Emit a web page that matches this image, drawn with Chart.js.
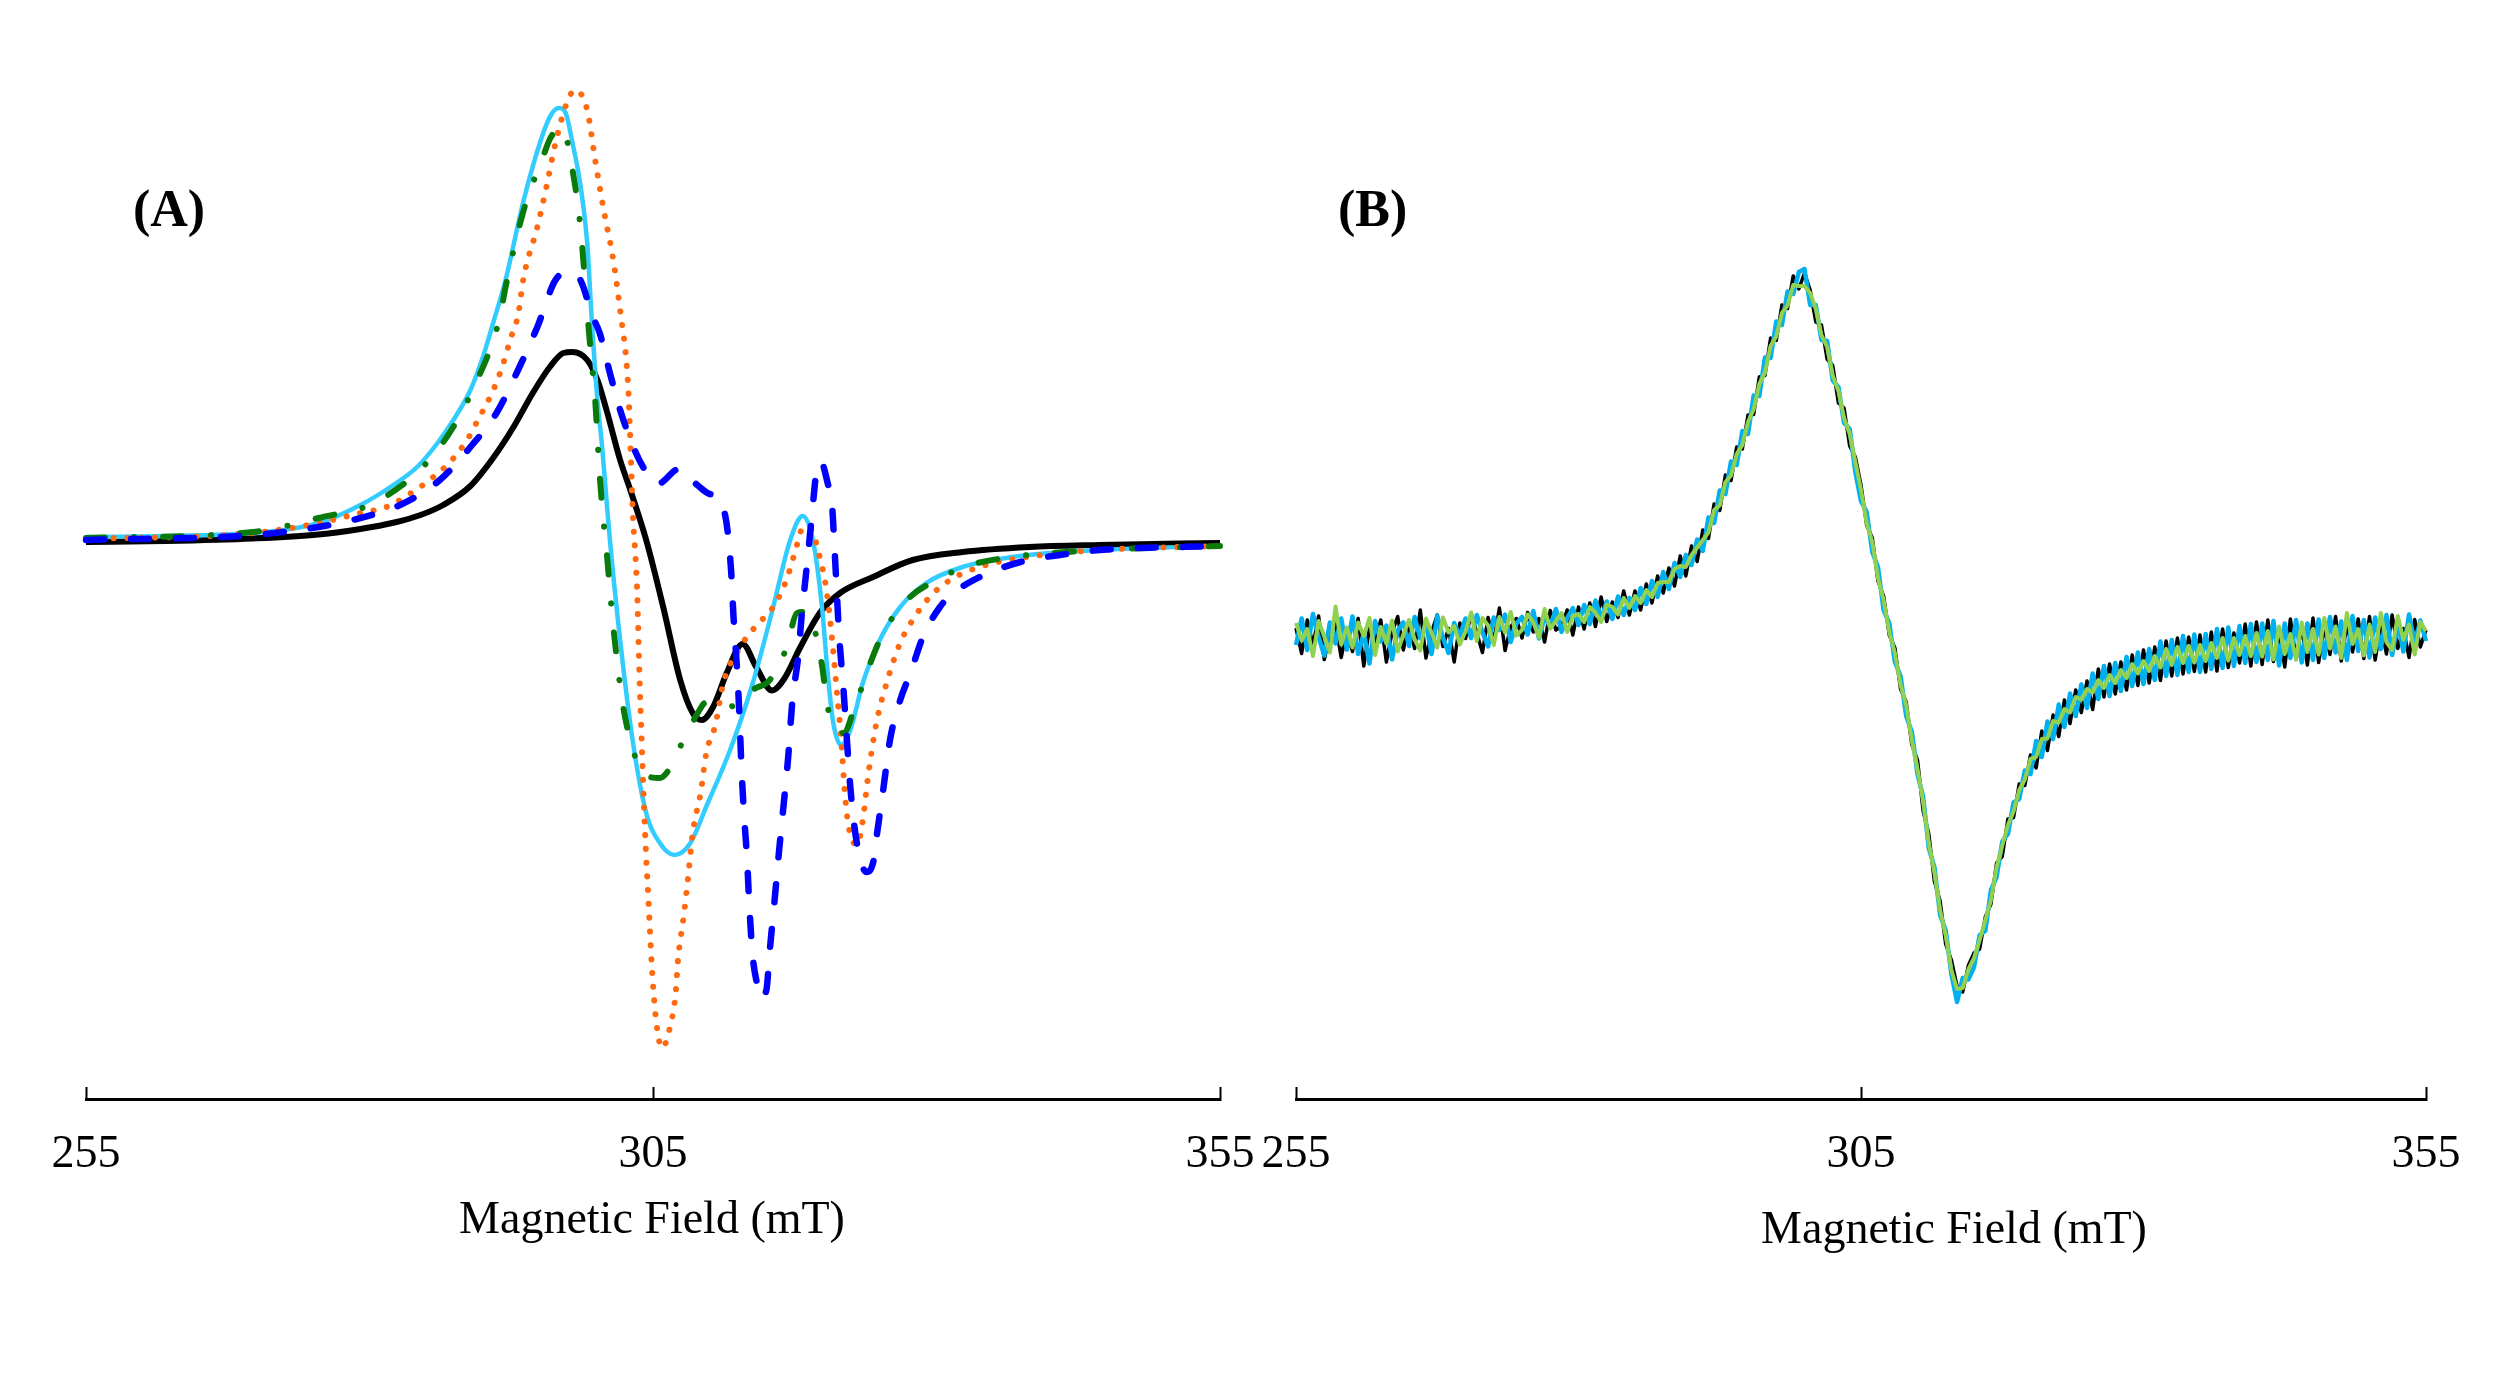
<!DOCTYPE html>
<html>
<head>
<meta charset="utf-8">
<script src="https://cdn.jsdelivr.net/npm/chart.js@4.4.1/dist/chart.umd.min.js"></script>
<style>
  html, body { margin: 0; padding: 0; background: #fff; }
  body { width: 2511px; height: 1384px; position: relative; overflow: hidden; font-family: "Liberation Serif", "Times New Roman", serif; }
  canvas { position: absolute; top: 0; }
  #chart-a { left: 0; }
  #chart-b { left: 1216px; }
  .panel-tag { position: absolute; font-weight: bold; font-size: 52px; line-height: 52px; color: #000; }
  .axis-title { position: absolute; font-size: 46px; line-height: 46px; color: #000; white-space: nowrap; transform: translateX(-50%); }
</style>
</head>
<body>
<canvas id="chart-a" width="1300" height="1384"></canvas>
<canvas id="chart-b" width="1295" height="1384"></canvas>
<div class="panel-tag" style="left:133px; top:183px">(A)</div>
<div class="panel-tag" style="left:1338px; top:183px">(B)</div>
<div class="axis-title" style="left:652px; top:1195px">Magnetic Field (mT)</div>
<div class="axis-title" style="left:1954px; top:1205px">Magnetic Field (mT)</div>

<script>
// x axis (mT)
const fieldTicks = [255, 305, 355];

// ---- panel A : simulated spectra (arbitrary units) ----
const blackField = [255.0, 262.0, 269.7, 275.5, 279.2, 282.2, 284.5, 286.5, 288.9, 290.9, 292.7, 294.4, 295.9, 297.1, 297.9, 299.2, 300.1, 300.9, 302.1, 303.0, 304.4, 305.9, 307.4, 308.5, 309.3, 310.3, 311.5, 312.9, 314.1, 315.5, 316.5, 318.0, 319.7, 321.5, 324.4, 327.9, 332.3, 338.2, 344.4, 355.0];
const blackSignal = [-0.4, -0.2, 0.3, 1.1, 2.2, 3.5, 5.0, 7.0, 10.8, 16.4, 22.6, 29.4, 34.6, 37.4, 37.6, 36.0, 32.0, 26.0, 16.0, 10.0, 0, -13.4, -28.0, -34.6, -36.0, -33.4, -26.6, -20.8, -25.4, -30.1, -28.0, -21.4, -14.6, -10.6, -7.4, -4.0, -2.4, -1.4, -1.0, -0.6];

const cyanField = [255.0, 269.7, 275.5, 279.2, 282.1, 284.2, 286.0, 287.4, 288.9, 290.0, 290.9, 292.0, 293.6, 295.2, 296.0, 296.7, 297.3, 297.9, 298.6, 299.2, 299.6, 300.1, 300.5, 300.9, 301.2, 302.1, 303.2, 304.4, 305.6, 306.9, 308.3, 309.7, 311.8, 313.8, 315.6, 317.1, 318.2, 319.1, 319.9, 320.4, 320.9, 321.6, 322.4, 323.5, 325.0, 326.8, 329.1, 332.3, 336.7, 344.4, 355.0];
const cyanSignal = [0.6, 1.4, 3.4, 7.0, 11.0, 14.6, 19.4, 24.0, 30.0, 36.6, 43.4, 52.0, 68.0, 80.6, 85.0, 86.4, 85.4, 79.4, 71.0, 59.4, 44.0, 28.0, 19.0, 8.0, 0, -20.0, -40.0, -54.6, -60.6, -63.0, -60.6, -53.3, -42.0, -28.6, -13.4, 0, 4.8, 0, -13.4, -26.6, -36.6, -41.0, -38.0, -28.6, -20.0, -13.4, -8.6, -5.4, -3.4, -2.0, -1.2];

const orangeField = [255.0, 269.7, 275.5, 279.2, 281.5, 283.4, 285.3, 287.1, 288.6, 289.7, 290.8, 291.7, 292.4, 293.1, 293.6, 294.8, 295.6, 296.4, 297.4, 298.1, 299.2, 299.9, 300.7, 301.5, 302.1, 302.8, 303.0, 303.2, 303.6, 303.8, 304.0, 304.3, 304.6, 304.9, 305.3, 305.8, 306.5, 307.0, 307.2, 307.7, 308.1, 308.5, 309.2, 309.7, 310.5, 311.2, 312.7, 314.0, 315.6, 316.7, 317.5, 318.2, 318.7, 319.1, 319.7, 320.3, 320.8, 321.2, 321.6, 321.9, 322.2, 323.0, 323.5, 324.0, 324.7, 325.6, 326.8, 327.9, 329.4, 331.2, 333.8, 337.4, 344.4, 355.0];
const orangeSignal = [0.2, 1.4, 3.4, 5.4, 6.6, 9.0, 12.0, 15.6, 20.0, 24.6, 29.4, 34.6, 40.0, 45.0, 52.6, 62.6, 70.6, 79.4, 87.4, 90.0, 86.0, 76.0, 65.4, 56.0, 46.0, 31.0, 20.0, 6.6, -10.0, -26.6, -40.0, -58.6, -72.0, -85.4, -96.6, -101.6, -97.4, -90.6, -84.0, -75.4, -67.4, -58.6, -50.6, -42.6, -37.0, -28.6, -21.4, -17.4, -13.4, -8.4, -2.6, 2.4, 2.6, 1.4, -3.4, -10.0, -20.0, -30.0, -40.0, -50.0, -56.6, -61.0, -56.0, -46.6, -36.6, -28.6, -20.6, -16.0, -11.4, -8.0, -5.4, -3.6, -2.0, -1.2];

const greenField = [255.0, 269.7, 275.5, 280.9, 286.2, 289.5, 291.5, 292.0, 293.6, 295.2, 296.0, 297.0, 297.9, 298.6, 299.3, 299.6, 299.9, 300.3, 300.6, 300.9, 301.2, 301.5, 301.9, 302.3, 303.0, 304.1, 305.6, 306.5, 307.6, 309.0, 309.6, 311.1, 312.7, 313.8, 315.3, 316.8, 317.7, 318.5, 319.1, 319.4, 319.9, 320.4, 321.8, 322.8, 324.1, 325.3, 327.4, 330.0, 333.0, 336.7, 344.4, 355.0];
const greenSignal = [0.4, 1.6, 4.4, 8.0, 18.6, 32.0, 44.6, 50.6, 66.0, 76.0, 80.6, 82.4, 74.0, 62.6, 43.0, 35.4, 28.0, 13.0, 4.6, -2.0, -10.0, -17.4, -25.4, -32.4, -40.0, -46.6, -47.6, -45.6, -40.4, -34.4, -32.6, -33.4, -32.6, -30.0, -28.0, -21.4, -14.6, -14.4, -16.0, -19.4, -25.0, -33.4, -38.6, -33.4, -25.0, -18.6, -12.0, -8.0, -5.0, -3.4, -2.0, -1.2];

const blueField = [255.0, 269.7, 275.5, 279.2, 282.7, 286.2, 288.9, 291.2, 293.1, 294.8, 296.4, 297.6, 298.6, 299.7, 300.3, 301.2, 302.1, 303.5, 304.4, 305.4, 307.3, 308.9, 310.0, 310.7, 311.3, 311.6, 311.9, 312.1, 312.4, 312.6, 312.8, 313.0, 313.3, 313.5, 313.8, 314.2, 314.5, 315.0, 315.3, 315.7, 316.1, 316.5, 316.9, 317.3, 317.8, 318.1, 318.5, 319.0, 319.4, 319.8, 320.4, 320.8, 321.0, 321.2, 321.4, 321.8, 322.1, 322.4, 322.8, 323.3, 323.8, 324.4, 324.8, 325.3, 325.9, 326.8, 327.7, 328.8, 330.3, 331.5, 333.8, 337.4, 341.5, 344.4, 355.0];
const blueSignal = [0, 1.0, 2.6, 4.4, 7.0, 12.0, 18.6, 25.4, 34.0, 42.6, 52.0, 53.6, 52.0, 44.6, 41.4, 33.4, 26.0, 17.4, 13.6, 11.2, 14.2, 11.0, 9.2, 8.8, 5.6, 1.4, -6.6, -15.4, -25.4, -34.0, -45.4, -54.0, -64.0, -73.4, -83.4, -89.0, -91.6, -90.0, -82.0, -72.6, -62.6, -53.4, -44.0, -32.0, -23.4, -15.4, -6.6, 4.6, 13.4, 15.6, 11.4, 6.6, -1.4, -10.0, -18.6, -30.0, -40.0, -49.4, -58.0, -64.0, -66.4, -64.6, -58.0, -50.0, -40.0, -32.0, -26.6, -19.4, -13.4, -10.6, -7.4, -4.4, -2.8, -2.0, -1.2];

// ---- panel B : measured spectra, sampled every 0.5 mT ----
const fieldB = [
  255, 255.5, 256, 256.5, 257, 257.5, 258, 258.5, 259, 259.5,
  260, 260.5, 261, 261.5, 262, 262.5, 263, 263.5, 264, 264.5,
  265, 265.5, 266, 266.5, 267, 267.5, 268, 268.5, 269, 269.5,
  270, 270.5, 271, 271.5, 272, 272.5, 273, 273.5, 274, 274.5,
  275, 275.5, 276, 276.5, 277, 277.5, 278, 278.5, 279, 279.5,
  280, 280.5, 281, 281.5, 282, 282.5, 283, 283.5, 284, 284.5,
  285, 285.5, 286, 286.5, 287, 287.5, 288, 288.5, 289, 289.5,
  290, 290.5, 291, 291.5, 292, 292.5, 293, 293.5, 294, 294.5,
  295, 295.5, 296, 296.5, 297, 297.5, 298, 298.5, 299, 299.5,
  300, 300.5, 301, 301.5, 302, 302.5, 303, 303.5, 304, 304.5,
  305, 305.5, 306, 306.5, 307, 307.5, 308, 308.5, 309, 309.5,
  310, 310.5, 311, 311.5, 312, 312.5, 313, 313.5, 314, 314.5,
  315, 315.5, 316, 316.5, 317, 317.5, 318, 318.5, 319, 319.5,
  320, 320.5, 321, 321.5, 322, 322.5, 323, 323.5, 324, 324.5,
  325, 325.5, 326, 326.5, 327, 327.5, 328, 328.5, 329, 329.5,
  330, 330.5, 331, 331.5, 332, 332.5, 333, 333.5, 334, 334.5,
  335, 335.5, 336, 336.5, 337, 337.5, 338, 338.5, 339, 339.5,
  340, 340.5, 341, 341.5, 342, 342.5, 343, 343.5, 344, 344.5,
  345, 345.5, 346, 346.5, 347, 347.5, 348, 348.5, 349, 349.5,
  350, 350.5, 351, 351.5, 352, 352.5, 353, 353.5, 354, 354.5, 355,
];
const blackB = [
  1.6, -3.5, 3.2, -1.8, 4.0, -4.7, 0.3, 2.5, -4.3, 1.1,
  -3.1, 3.5, -6.0, 1.6, -1.4, 3.2, -5.2, 0.7, 3.9, -2.8,
  2.4, -2.5, 5.2, -4.4, 0.8, 4.2, -2.1, 1.5, -5.2, 2.6,
  -0.5, 4.5, 0.6, -3.3, 3.7, -1.2, 5.6, -2.9, 1.8, 3.5,
  -0.4, 4.7, 0.8, 3.5, -1.2, 5.1, 1.2, 2.0, 5.2, 0.2,
  5.8, 1.4, 6.6, 1.9, 7.8, 2.9, 6.8, 3.7, 9.0, 4.2,
  9.0, 5.2, 10.4, 6.6, 12.0, 8.6, 13.6, 10.0, 16.0, 12.0,
  18.0, 14.9, 21.2, 19.5, 26.4, 25.1, 32.2, 31.1, 37.8, 37.4,
  44.2, 44.3, 51.8, 52.1, 59.6, 59.1, 66.2, 65.5, 72.0, 69.4,
  72.6, 69.2, 62.8, 62.2, 55.4, 54.1, 46.6, 45.6, 38.0, 35.8,
  30.2, 22.2, 19.6, 11.0, 8.0, 0.2, -2.4, -10.6, -13.2, -21.8,
  -24.8, -35.0, -39.6, -49.1, -53.0, -61.7, -64.8, -70.0, -71.2, -65.9,
  -63.4, -62.6, -56.2, -53.6, -45.4, -44.1, -36.6, -36.3, -29.6, -29.9,
  -23.8, -26.4, -19.0, -22.9, -15.8, -20.1, -12.8, -17.5, -10.8, -15.3,
  -9.0, -14.7, -6.6, -12.2, -5.6, -11.6, -5.2, -10.8, -3.8, -9.9,
  -2.8, -9.4, -2.2, -8.9, -1.0, -8.0, -0.4, -7.6, -0.2, -7.1,
  0.2, -7.2, 0.8, -7.0, 1.4, -6.3, 0.6, -5.4, 2.4, -6.0,
  2.8, -5.7, 3.2, -5.1, 0.9, -6.2, 3.4, -4.7, 1.9, -5.8,
  3.6, -5.3, 1.8, -3.7, 3.9, -5.0, 2.4, -3.2, 3.4, -4.5,
  3.9, -4.8, 2.0, -3.6, 4.2, -2.5, 1.5, -4.3, 3.3, -2.2, 1.2,
];
const cyanB = [
  -1.8, 3.5, -2.8, 4.4, -0.2, -3.9, 2.7, -1.5, 3.5, -2.7,
  3.9, -3.6, 0.6, -5.5, 3.0, -1.1, 2.1, -4.7, 1.1, 2.7,
  -2.0, 3.8, -0.5, 2.5, -3.6, 4.0, -0.3, -3.4, 2.6, -0.1,
  3.5, -0.4, 4.2, 0.8, -2.1, 3.7, 1.2, 4.3, -1.2, 2.5,
  3.8, 0.3, 5.0, -0.5, 3.8, 1.9, 5.4, 0.8, 3.6, 5.6,
  2.2, 6.2, 2.4, 7.1, 3.4, 6.9, 3.4, 7.9, 4.2, 7.6,
  5.2, 9.6, 6.4, 11.0, 7.8, 12.8, 9.4, 14.6, 11.8, 16.2,
  14.2, 19.3, 17.0, 23.7, 22.6, 29.1, 28.4, 34.9, 34.2, 41.0,
  40.4, 48.1, 48.0, 55.7, 55.6, 62.9, 62.2, 68.9, 68.4, 72.8,
  73.4, 66.2, 66.2, 59.2, 59.0, 51.1, 49.8, 42.6, 41.4, 32.8,
  27.0, 24.8, 16.8, 13.8, 5.2, 2.6, -5.2, -8.0, -16.0, -19.2,
  -27.6, -32.2, -42.4, -46.3, -55.8, -58.9, -67.6, -73.2, -68.4, -68.7,
  -66.2, -59.8, -59.0, -50.8, -48.2, -41.1, -39.6, -33.3, -32.6, -26.9,
  -27.6, -21.0, -24.2, -17.1, -20.6, -13.7, -18.2, -11.5, -16.0, -9.7,
  -14.4, -7.5, -12.6, -6.0, -12.0, -5.4, -11.0, -4.2, -10.0, -3.3,
  -9.6, -2.6, -8.8, -1.1, -8.0, -0.8, -7.8, 0.0, -7.2, 0.3,
  -7.2, 0.4, -6.6, 1.4, -6.4, 1.7, -6.0, 2.0, -5.4, 2.4,
  -5.2, 2.5, -4.8, 3.0, -5.9, 2.5, -4.4, 3.2, -5.3, 2.5,
  -4.8, 3.3, -4.4, 3.8, -3.3, 2.9, -4.8, 4.0, -3.0, 3.2,
  -4.3, 3.7, -2.6, 4.2, -3.8, 2.8, -3.1, 4.3, -1.7, 3.1, -1.0,
];
const greenB = [
  2.6, -0.9, 1.4, -4.0, 3.0, -0.1, -3.3, 5.9, -1.7, 1.7,
  -2.3, 2.7, 0.0, 3.6, -3.8, 1.8, -1.5, 3.1, -3.1, 0.3,
  3.2, -0.7, -2.9, 3.5, 0.6, -2.3, 3.7, 0.7, 2.0, -1.7,
  0.9, 4.7, -1.0, 3.6, 2.1, -1.8, 3.8, 0.7, 4.8, 0.1,
  1.2, 4.3, 2.8, -0.3, 5.4, 1.5, 3.0, 4.6, 0.8, 4.0,
  4.4, 2.8, 5.8, 4.7, 2.8, 6.3, 5.8, 4.3, 7.6, 5.6,
  8.0, 6.6, 9.2, 7.8, 10.6, 10.8, 10.8, 13.4, 14.0, 13.8,
  16.2, 17.7, 19.2, 20.7, 25.2, 26.1, 30.8, 32.1, 36.4, 38.2,
  42.8, 45.3, 50.4, 52.7, 58.0, 59.9, 64.6, 66.1, 70.2, 70.0,
  70.0, 68.6, 65.4, 60.2, 57.8, 52.1, 49.0, 43.6, 40.4, 34.8,
  29.2, 22.6, 18.8, 11.6, 7.2, 0.8, -3.4, -9.8, -13.8, -21.0,
  -26.6, -33.2, -41.4, -47.3, -54.8, -59.9, -66.8, -70.6, -70.4, -66.7,
  -64.4, -60.8, -56.8, -52.8, -46.2, -41.9, -37.8, -35.1, -30.8, -28.7,
  -24.6, -24.2, -20.6, -20.5, -17.0, -17.3, -14.6, -15.3, -12.2, -12.7,
  -10.6, -11.3, -8.8, -10.4, -7.8, -9.4, -6.8, -8.4, -5.6, -7.5,
  -5.0, -7.0, -4.0, -6.3, -2.6, -5.8, -2.2, -5.4, -2.0, -5.3,
  -1.8, -5.0, -1.4, -4.4, -0.4, -4.9, -0.4, -3.8, 0.0, -4.0,
  0.6, -4.1, 1.0, -4.7, 1.9, -3.6, 0.4, -4.7, 2.7, -3.2,
  1.4, -3.7, 3.6, -2.5, 1.9, -4.4, 4.6, -1.6, 1.4, -3.9,
  2.3, -3.2, 4.6, -1.2, -2.8, 4.0, -0.7, 2.3, -3.7, 2.8, 1.0,
];

Chart.defaults.font.family = '"Liberation Serif", "Times New Roman", serif';
Chart.defaults.color = '#000';

const pts = (xs, ys) => xs.map((x, i) => ({ x, y: ys[i] }));

function fieldAxis() {
  return {
    type: 'linear',
    min: 255,
    max: 355,
    afterBuildTicks: (s) => { s.ticks = fieldTicks.map((v) => ({ value: v })); },
    afterFit: (s) => { s.height = 120; },
    grid: { drawOnChartArea: false, drawTicks: true, tickLength: -12, tickWidth: 2, tickColor: '#000' },
    border: { display: true, color: '#000', width: 3 },
    ticks: { color: '#000', padding: 40, autoSkip: false, maxRotation: 0, font: { size: 46 } },
  };
}

function baseOptions(yMin, yMax, padding) {
  return {
    responsive: false,
    animation: false,
    layout: { padding },
    plugins: { legend: { display: false }, tooltip: { enabled: false } },
    elements: { point: { radius: 0 } },
    scales: {
      x: fieldAxis(),
      y: { display: false, min: yMin, max: yMax },
    },
  };
}

function lineSet(data, color, width, dash, order, smooth) {
  return {
    data,
    borderColor: color,
    borderWidth: width,
    borderDash: dash,
    borderCapStyle: dash.length ? 'round' : 'butt',
    borderJoinStyle: 'round',
    pointRadius: 0,
    fill: false,
    clip: false,
    order,
    cubicInterpolationMode: smooth ? 'monotone' : 'default',
    tension: 0,
  };
}

new Chart(document.getElementById('chart-a'), {
  type: 'line',
  data: {
    datasets: [
      lineSet(pts(blueField, blueSignal), '#0000ff', 6.5, [18, 27], 0, true),
      lineSet(pts(greenField, greenSignal), '#0a7a0a', 6, [19, 29, 0.1, 29], 1, true),
      lineSet(pts(orangeField, orangeSignal), '#ff6a10', 6, [0.1, 13.7], 2, true),
      lineSet(pts(cyanField, cyanSignal), '#33ccff', 4.5, [], 3, true),
      lineSet(pts(blackField, blackSignal), '#000000', 6, [], 4, true),
    ],
  },
  options: baseOptions(-111.8, 100, { left: 86, right: 80, top: 40, bottom: 165 }),
});

new Chart(document.getElementById('chart-b'), {
  type: 'line',
  data: {
    datasets: [
      lineSet(pts(fieldB, greenB), '#92d050', 4, [], 0, false),
      lineSet(pts(fieldB, cyanB), '#00b0f0', 4.5, [], 1, false),
      lineSet(pts(fieldB, blackB), '#000000', 3.5, [], 2, false),
    ],
  },
  options: baseOptions(-92.6, 119.2, { left: 80, right: 85, top: 40, bottom: 165 }),
});
</script>
</body>
</html>
